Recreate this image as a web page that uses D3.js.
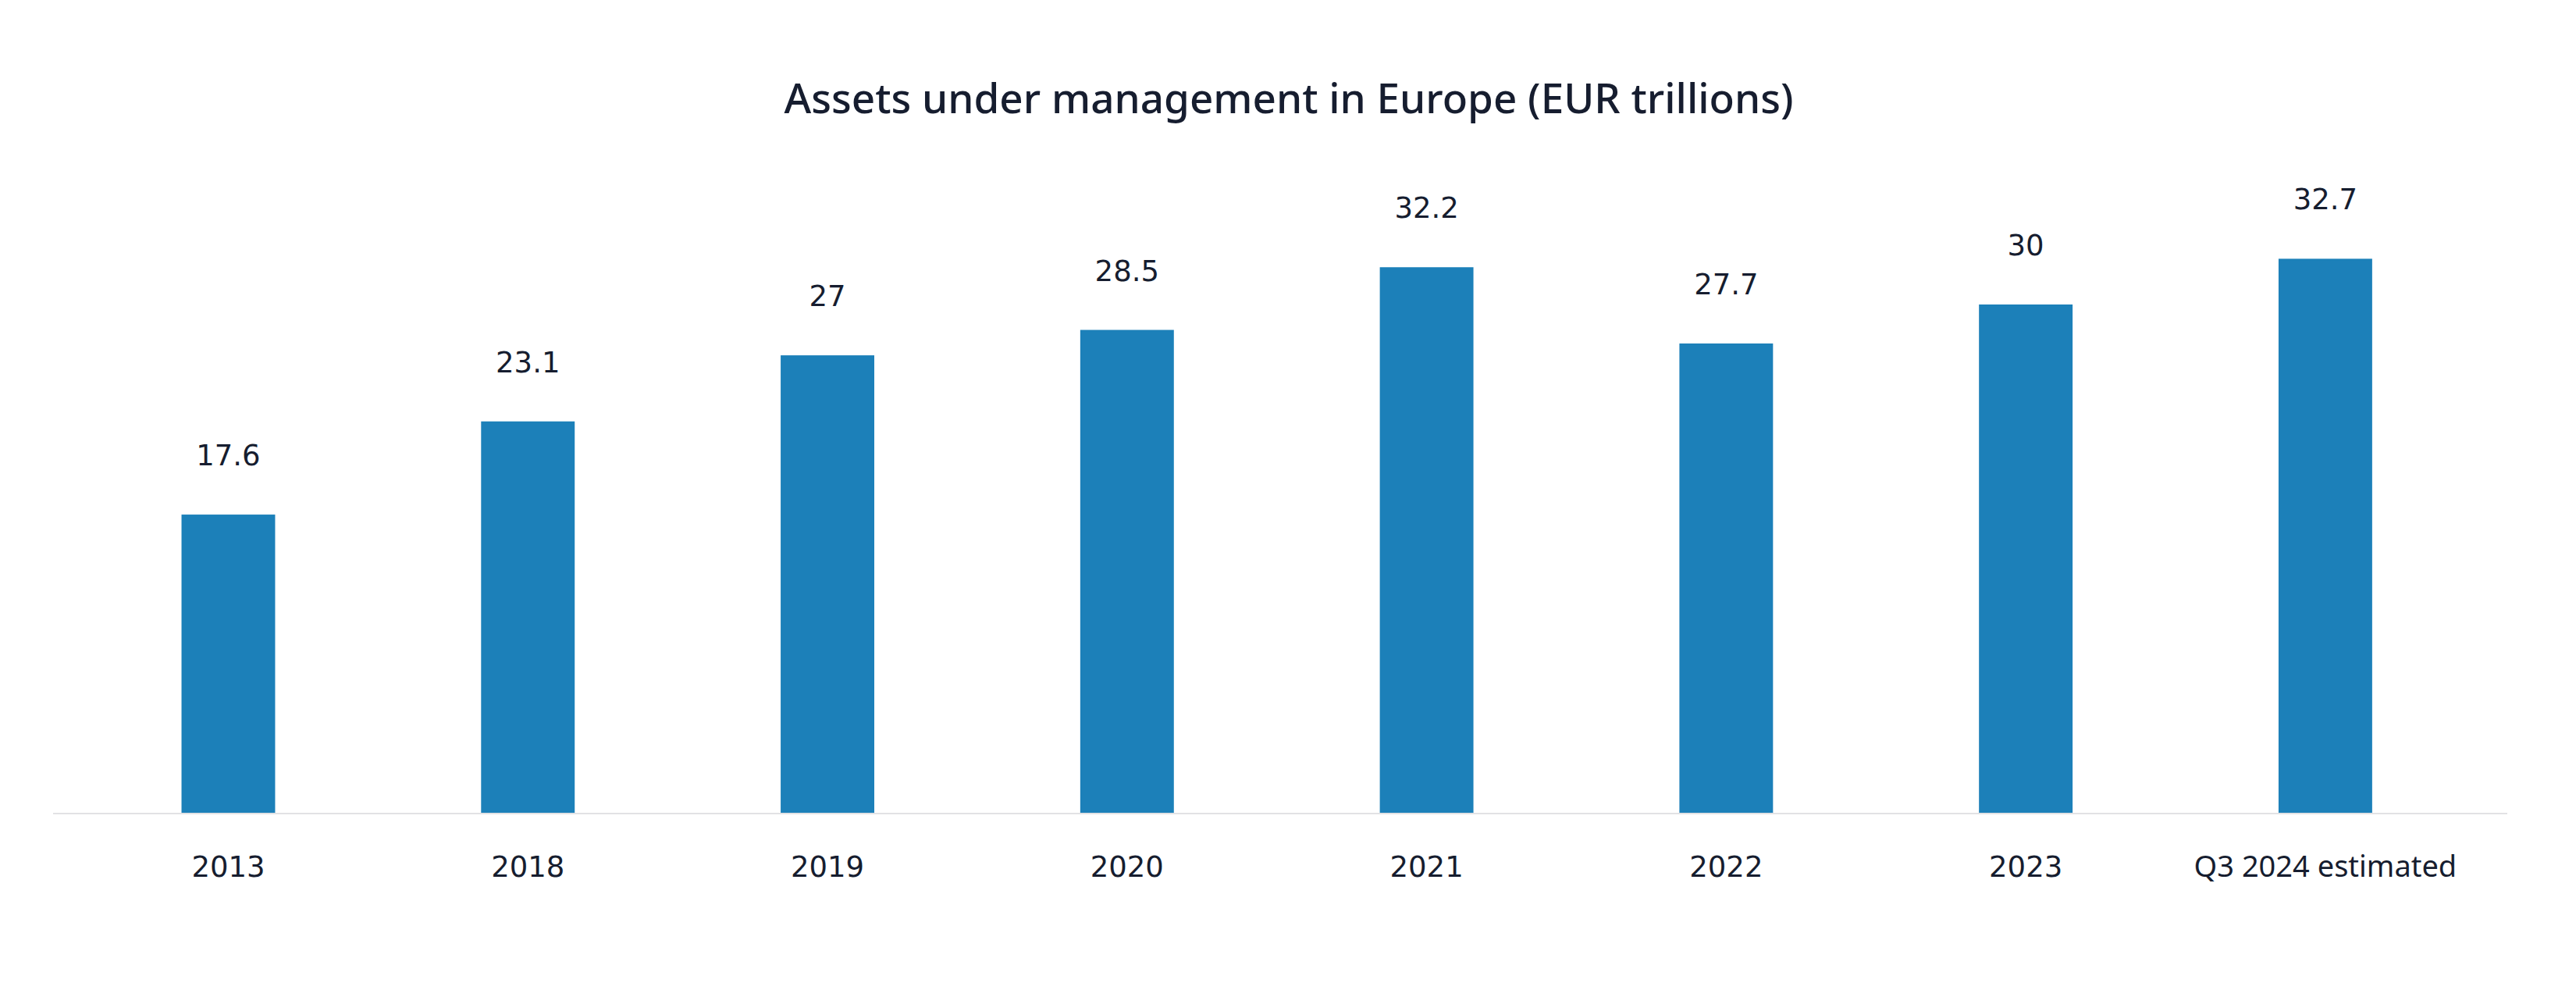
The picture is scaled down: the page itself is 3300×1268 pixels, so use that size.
<!DOCTYPE html>
<html>
<head>
<meta charset="utf-8">
<script src="https://cdn.jsdelivr.net/npm/d3@7"></script>
<style>
  body { margin: 0; background: #fff; }
  svg { display: block; }
</style>
</head>
<body>
<div id="chart"></div>
<script>
const width = 3300;
const height = 1268;

// data
const categories = ["2013", "2018", "2019", "2020", "2021", "2022", "2023", "Q3 2024 estimated"];
const values = [17.6, 23.1, 27, 28.5, 32.2, 27.7, 30, 32.7];
const title = "Assets under management in Europe (EUR trillions)";

const data = categories.map((c, i) => ({ cat: c, value: values[i] }));

const svg = d3.select("#chart")
  .append("svg")
  .attr("width", width)
  .attr("height", height);

const textColor = "#161d2f";
const barColor = "#1c80b9";
const numFont = "'DejaVu Sans', sans-serif";
const txtFont = "'Noto Sans', sans-serif";

// scales
const x = d3.scaleBand()
  .domain(categories)
  .range([100.6, 3170.8])
  .padding(0);

const y = d3.scaleLinear()
  .domain([0, 40])
  .range([1041, 173]);

const barW = x.bandwidth() * 0.3125;

// title
svg.append("text")
  .attr("x", 1651)
  .attr("y", 145)
  .attr("text-anchor", "middle")
  .style("font-family", txtFont)
  .style("font-weight", 500)
  .style("font-size", "53px")
  .style("fill", textColor)
  .text(title);

// bars
svg.selectAll(".bar")
  .data(data)
  .enter()
  .append("rect")
  .attr("class", "bar")
  .attr("x", d => x(d.cat) + x.bandwidth() / 2 - barW / 2)
  .attr("y", d => y(d.value))
  .attr("width", barW)
  .attr("height", d => y(0) - y(d.value))
  .attr("fill", barColor);

// value labels
svg.selectAll(".val")
  .data(data)
  .enter()
  .append("text")
  .attr("class", "val")
  .attr("x", d => x(d.cat) + x.bandwidth() / 2)
  .attr("y", d => y(d.value) - 63)
  .attr("text-anchor", "middle")
  .style("font-family", numFont)
  .style("font-size", "37px")
  .style("fill", textColor)
  .text(d => d.value);

// x axis
const xAxis = svg.append("g")
  .attr("transform", `translate(0,${y(0)})`)
  .call(d3.axisBottom(x).tickSize(0));

xAxis.select(".domain").remove();
xAxis.selectAll("text")
  .attr("dy", 0)
  .attr("y", 82)
  .style("font-family", d => /^[\d.]+$/.test(d) ? numFont : txtFont)
  .style("font-size", d => /^[\d.]+$/.test(d) ? "37px" : "38px")
  .style("fill", textColor);

// baseline
svg.append("line")
  .attr("x1", 68)
  .attr("x2", 3212)
  .attr("y1", y(0) + 1)
  .attr("y2", y(0) + 1)
  .attr("stroke", "#e2e2e4")
  .attr("stroke-width", 2);
</script>
</body>
</html>
